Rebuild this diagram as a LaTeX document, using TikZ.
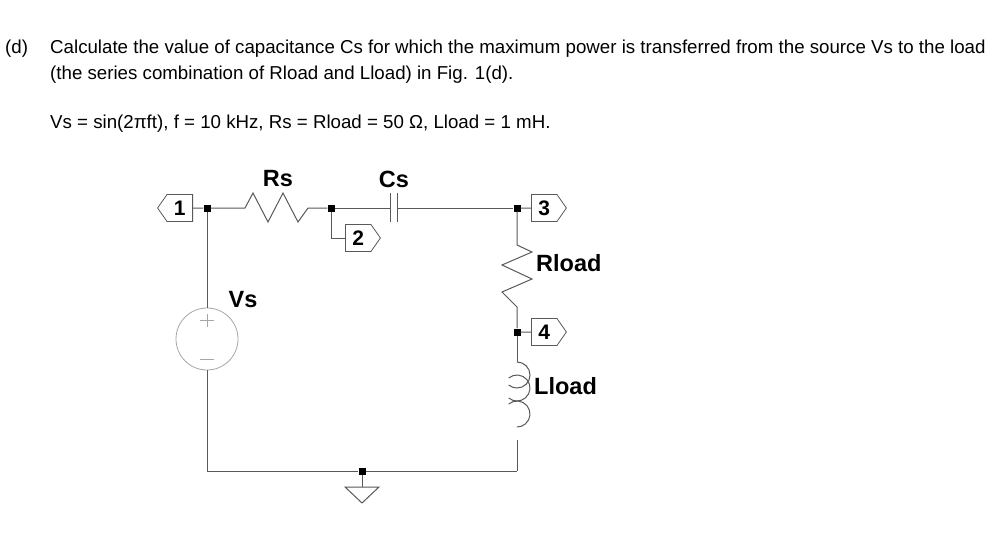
\documentclass[tikz,border=0pt]{standalone}
\usepackage{fontspec}
\setmainfont{Liberation Sans}
\usetikzlibrary{shapes.symbols}
\definecolor{wire}{gray}{0.35}
\tikzset{
  w/.style={draw=wire, line width=1pt},
  dot/.style={fill=black, inner sep=0pt, minimum size=7pt, rectangle},
  flag/.style={signal, draw=wire, line width=0.8pt, font=\fontsize{21}{21}\selectfont\bfseries, inner sep=1pt, minimum height=27pt, minimum width=35pt, signal pointer angle=110},
  lbl/.style={font=\fontsize{23.5}{23.5}\selectfont\bfseries, inner sep=0pt},
  txt/.style={font=\fontsize{18.7}{18.7}\selectfont, inner sep=0pt, anchor=base west}
}
\begin{document}
\begin{tikzpicture}[x=1pt, y=-1pt]
\useasboundingbox (0,0) rectangle (1004,535);
% text
\node[txt] (d) at (5,54) {(d)};
\node[txt] (l1) at (50,54) {Calculate the value of capacitance Cs for which the maximum power is transferred from the source Vs to the load};
\node[txt] (l2) at (50,79) {(the series combination of Rload and Lload) in Fig. 1(d).};
\node[txt] (l3) at (50,128) {Vs = sin(2πft), f = 10 kHz, Rs = Rload = 50 Ω, Lload = 1 mH.};
% junctions
\node[dot] (n1) at (207,208) {};
\node[dot] (n2) at (331,208) {};
\node[dot] (n3) at (517,208) {};
\node[dot] (n4) at (517,332) {};
\node[dot] (g) at (362,471) {};
\coordinate (bl) at (207,471);
\coordinate (br) at (517,471);
% flags
\node[flag, signal to=west, anchor=east] (f1) at (193,208) {1};
\node[flag, signal to=east, anchor=west] (f2) at (345,238) {2};
\node[flag, signal to=east, anchor=west] (f3) at (531,208) {3};
\node[flag, signal to=east, anchor=west] (f4) at (531,332) {4};
\draw[w] (f1) -- (n1);
\draw[w] (n2) |- (f2);
\draw[w] (n3) -- (f3);
\draw[w] (n4) -- (f4);
% Rs
\draw[w] (n1) -- (245,208) -- (253,193) -- (268,222) -- (283,193) -- (298,222) -- (308,208) -- (n2);
\node[lbl] (rs) at (278,179) {Rs};
% Cs
\draw[w] (n2) -- (390,208);
\draw[w] (390,193) -- (390,222) (397,193) -- (397,222);
\draw[w] (397,208) -- (n3);
\node[lbl] (cs) at (394,179) {Cs};
% Rload
\draw[w] (n3) -- (517,245) -- (532,252) -- (502,265) -- (532,279) -- (502,292) -- (517,307) -- (n4);
\node[lbl, anchor=west] (rl) at (536,263) {Rload};
% Lload
\draw[w] (n4) -- (517,362);
\draw[w] (517,362) arc[start angle=-90, end angle=130, radius=13];
\draw[w] (517,388) ++(-130:13) arc[start angle=-130, end angle=130, radius=13];
\draw[w] (517,414) ++(-130:13) arc[start angle=-130, end angle=90, radius=13];
\draw[w] (517,440) -- (br);
\node[lbl, anchor=west] (ll) at (534,386) {Lload};
% Vs
\draw[draw=gray!70, line width=0.8pt] (207,339) circle[radius=31];
\draw[draw=gray!70, line width=0.8pt] (207,314) -- (207,327) (200,320) -- (214,320) (200,359) -- (214,359);
\draw[w] (n1) -- (207,308);
\draw[w] (207,370) -- (bl);
\node[lbl] (vs) at (243,300) {Vs};
% bottom wire and ground
\draw[w] (bl) -- (g) -- (br);
\draw[w] (g) -- (362,487);
\draw[w] (345,487) -- (379,487) -- (362,503) -- cycle;
\end{tikzpicture}
\end{document}
